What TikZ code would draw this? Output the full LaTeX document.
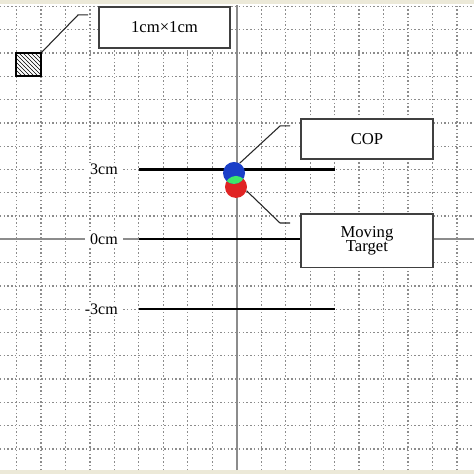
\documentclass[tikz,border=0pt]{standalone}
\usepackage{fontspec}
\setmainfont{Liberation Serif}
\usetikzlibrary{patterns}

\definecolor{barbeige}{HTML}{ECE9D8}
\definecolor{copblue}{HTML}{1A3FC8}
\definecolor{tgtred}{HTML}{E02424}
\definecolor{overlapgreen}{HTML}{3EE86A}

\tikzset{
  gridline/.style={black!45, line width=1pt, dash pattern=on 1.1pt off 1.7pt},
  axisline/.style={black!45, line width=1.3pt},
  levelline/.style={black, line width=1.7pt},
  labelbox/.style={draw=black!75, line width=1.1pt, fill=white, align=center,
    minimum width=99pt, inner sep=0pt, font=\fontsize{12.5}{11}\selectfont},
  levellabel/.style={anchor=east, fill=white, inner xsep=4pt, inner ysep=1pt,
    font=\fontsize{12}{13}\selectfont},
  leader/.style={black!85, line width=0.8pt},
  dot/.style={circle, inner sep=0pt, minimum size=16.5pt},
}

\begin{document}
\begin{tikzpicture}[x=18.36pt, y=17.46pt]
  \useasboundingbox (-9.67,-10.08) rectangle (9.69,10.28);
  \fill[white] (-9.67,-10.08) rectangle (9.69,10.28);
  \fill[barbeige] (-9.67,10.11) rectangle (9.69,10.28);
  \fill[barbeige] (-9.67,-9.91) rectangle (9.69,-10.08);

  % dotted grid, 1 cm per cell
  \foreach \x in {-9,...,-1,1,2,...,9}
    \draw[gridline] (\x,-9.91) -- (\x,10.08);
  \foreach \y in {-9,...,-1,1,2,...,10}
    \draw[gridline] (-9.67,\y) -- (9.69,\y);
  \draw[axisline] (0,-9.91) -- (0,10.08);
  \draw[axisline] (-9.67,0) -- (9.69,0);

  % reference levels
  \draw[levelline] (-4,3) -- (4,3);
  \draw[levelline] (-4,0) -- (4,0);
  \draw[levelline] (-4,-3) -- (4,-3);
  \node[levellabel] (lab3) at (-4.63,3) {3cm};
  \node[levellabel] (lab0) at (-4.63,0) {0cm};
  \node[levellabel] (labm3) at (-4.63,-3) {-3cm};

  % unit square
  \node[draw=black, line width=1.5pt, pattern=north west lines, inner sep=0pt,
    minimum width=18.36pt, minimum height=17.46pt] (unitsq) at (-8.5,7.5) {};
  \node[labelbox, minimum width=98pt, minimum height=30.5pt] (sizebox) at (-2.95,9.1) {1cm×1cm};
  \coordinate (sizebend) at (-6.48,9.64);
  \coordinate (sizeend) at (-6.07,9.64);
  \draw[leader] (unitsq.north east) -- (sizebend) -- (sizeend);

  % markers
  \node[dot, fill=tgtred] (target) at (-0.03,2.25) {};
  \node[dot, fill=copblue] (cop) at (-0.11,2.85) {};
  \begin{scope}
    \clip (cop.center) circle (8.25pt);
    \fill[overlapgreen] (target.center) circle (8.25pt);
  \end{scope}

  % callouts
  \node[labelbox, minimum height=30pt] (copbox) at (5.32,4.3) {COP};
  \node[labelbox, minimum height=40pt] (tgtbox) at (5.32,-0.06) {Moving\\Target};
  \coordinate (copbend) at (1.77,4.87);
  \coordinate (copend) at (2.18,4.87);
  \coordinate (tgtbend) at (1.77,0.7);
  \coordinate (tgtend) at (2.18,0.7);
  \draw[leader] (cop.60) -- (copbend) -- (copend);
  \draw[leader] (target.-20) -- (tgtbend) -- (tgtend);
\end{tikzpicture}
\end{document}
